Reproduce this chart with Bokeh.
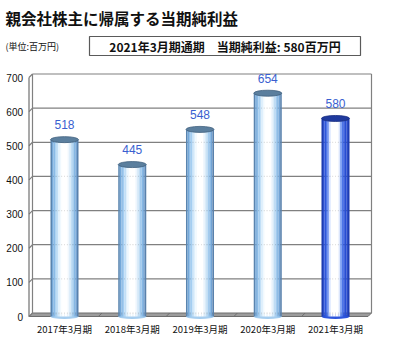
import numpy as np
from bokeh.plotting import figure
from bokeh.models import Range1d
from bokeh.core.properties import value
from bokeh.embed import file_html
from bokeh.resources import INLINE

# ---------------- data ----------------
title_text = "親会社株主に帰属する当期純利益"
unit_note = "(単位:百万円)"
headline = "2021年3月期通期　当期純利益: 580百万円"
categories = ["2017年3月期", "2018年3月期", "2019年3月期", "2020年3月期", "2021年3月期"]
net_income = [518, 445, 548, 654, 580]
y_ticks = [0, 100, 200, 300, 400, 500, 600, 700]
highlight = [False, False, False, False, True]

# ---------------- geometry (picture pixels -> data) ----------------
W, H = 398, 342
OX, OY = 0, 0         # where the canvas lands in the picture
SX = 67.75            # px per category
SY = 239 / 700        # px per unit
X_START = -(64 - OX) / SX
X_END = X_START + W / SX
Y_END = (316 - OY) / SY
Y_START = Y_END - H / SY


def fx(px):
    return X_START + (px - OX) / SX


def fy(py):
    return (316 - py) / SY


p = figure(width=W, height=H, output_backend="svg", toolbar_location=None,
           x_range=Range1d(X_START, X_END), y_range=Range1d(Y_START, Y_END),
           min_border=0, outline_line_color=None)
p.axis.visible = False
p.grid.visible = False
p.background_fill_color = "white"
p.border_fill_color = "white"

JP = value("Noto Sans CJK JP")
LAT = value("Liberation Sans")

# ---------------- 3D frame ----------------
depth_x = 3.5 / SX
depth_y = 3.5 / SY
xl_front = fx(28.5)
xl_back = xl_front + depth_x
xr_back = fx(371)
xr_front = xr_back - depth_x

# floor
p.patch([xl_front, xr_front, xr_back, xl_back], [0, 0, depth_y, depth_y],
        fill_color="#9c9c9c", line_color="#6e6e6e", line_width=1)
bounds = np.arange(len(categories) + 1) - 0.5
p.segment(x0=bounds[1:-1], y0=[0] * (len(bounds) - 2),
          x1=bounds[1:-1] + depth_x, y1=[depth_y] * (len(bounds) - 2),
          line_color="#6e6e6e", line_width=1)

# back wall gridlines
gt = np.array(y_ticks[1:])
p.segment(x0=[xl_back] * len(gt), y0=gt + depth_y, x1=[xr_back] * len(gt), y1=gt + depth_y,
          line_color="#808080", line_width=1.2)
p.segment(x0=[xl_back, xr_back], y0=[depth_y, depth_y],
          x1=[xl_back, xr_back], y1=[y_ticks[-1] + depth_y] * 2,
          line_color="#808080", line_width=1.2)
yt = np.array(y_ticks)
p.segment(x0=[xl_front] * len(yt), y0=yt, x1=[xl_back] * len(yt), y1=yt + depth_y,
          line_color="#808080", line_width=1.2)
p.segment(x0=[xl_front], y0=[0], x1=[xl_front], y1=[y_ticks[-1]],
          line_color="#707070", line_width=1.2)

# ---------------- cylinders ----------------
def interp_profile(stops, t):
    ts = [s[0] for s in stops]
    cols = [s[1] for s in stops]
    rgb = np.array([[int(c[i:i + 2], 16) for i in (1, 3, 5)] for c in cols], float)
    out = [np.interp(t, ts, rgb[:, k]) for k in range(3)]
    return "#%02x%02x%02x" % tuple(int(round(v)) for v in out)


normal_stops = [(0.0, "#4a6f95"), (0.07, "#6fa3d6"), (0.18, "#9ccaf0"), (0.32, "#e8f4fd"),
                (0.42, "#ffffff"), (0.6, "#ffffff"), (0.72, "#d0e7f8"), (0.84, "#8fc0ea"),
                (0.94, "#6a9cce"), (1.0, "#4a6a8e")]
hl_stops = [(0.0, "#1a35a0"), (0.08, "#2448cc"), (0.2, "#3a66e6"), (0.3, "#d8e4ff"),
            (0.36, "#ffffff"), (0.62, "#ffffff"), (0.7, "#6c95f4"), (0.8, "#2d55dc"),
            (0.94, "#2244c4"), (1.0, "#1a35a0")]

BW = 28 / SX
N = 18
xs = np.arange(len(categories), dtype=float)
vals = np.array(net_income, dtype=float)

for i in range(len(categories)):
    stops = hl_stops if highlight[i] else normal_stops
    p.ellipse(x=[xs[i]], y=[0], width=BW, height=5, height_units="screen",
              fill_color=interp_profile(stops, 0.8), line_color=None)
    sx_ = xs[i] - BW / 2 + (np.arange(N) + 0.5) / N * BW
    cols = [interp_profile(stops, (j + 0.5) / N) for j in range(N)]
    p.vbar(x=sx_, width=BW / N * 1.02, top=[vals[i]] * N, bottom=0,
           fill_color=cols, line_color=None)
    top_col = "#1f3a9e" if highlight[i] else "#5b7f9e"
    top_line = "#162c80" if highlight[i] else "#3f5f7e"
    p.ellipse(x=[xs[i]], y=[vals[i]], width=BW, height=6, height_units="screen",
              fill_color=top_col, line_color=top_line, line_width=0.8)

# value labels
p.text(x=xs, y=vals, text=[str(v) for v in net_income], y_offset=-15,
       text_align="center", text_baseline="middle", text_font=LAT,
       text_font_size="12px", text_color="#3a5fd0")

# y tick labels
p.text(x=[fx(22.5)] * len(y_ticks), y=y_ticks, text=[str(v) for v in y_ticks],
       text_align="right", text_baseline="middle", text_font=LAT,
       text_font_size="10px", text_color="#111111")

# x tick labels
p.text(x=xs, y=[fy(328)] * len(categories), text=categories,
       text_align="center", text_baseline="middle", text_font=JP,
       text_font_size="9.5px", text_color="#111111")

# ---------------- header ----------------
p.text(x=[fx(5)], y=[fy(17.5)], text=[title_text], text_align="left",
       text_baseline="middle", text_font=JP, text_font_size="15.5px",
       text_font_style="bold", text_color="#111111")
p.text(x=[fx(5)], y=[fy(46)], text=[unit_note], text_align="left",
       text_baseline="middle", text_font=JP, text_font_size="9px",
       text_color="#111111")
p.rect(x=[fx(224.5)], y=[fy(45.5)], width=271, height=19, width_units="screen",
       height_units="screen", fill_color=None, line_color="#5a5a5a", line_width=1.2)
p.text(x=[fx(224.5)], y=[fy(46)], text=[headline], text_align="center",
       text_baseline="middle", text_font=JP, text_font_size="12px",
       text_font_style="bold", text_color="#111111")

open("out.html", "w").write(file_html(p, INLINE))
